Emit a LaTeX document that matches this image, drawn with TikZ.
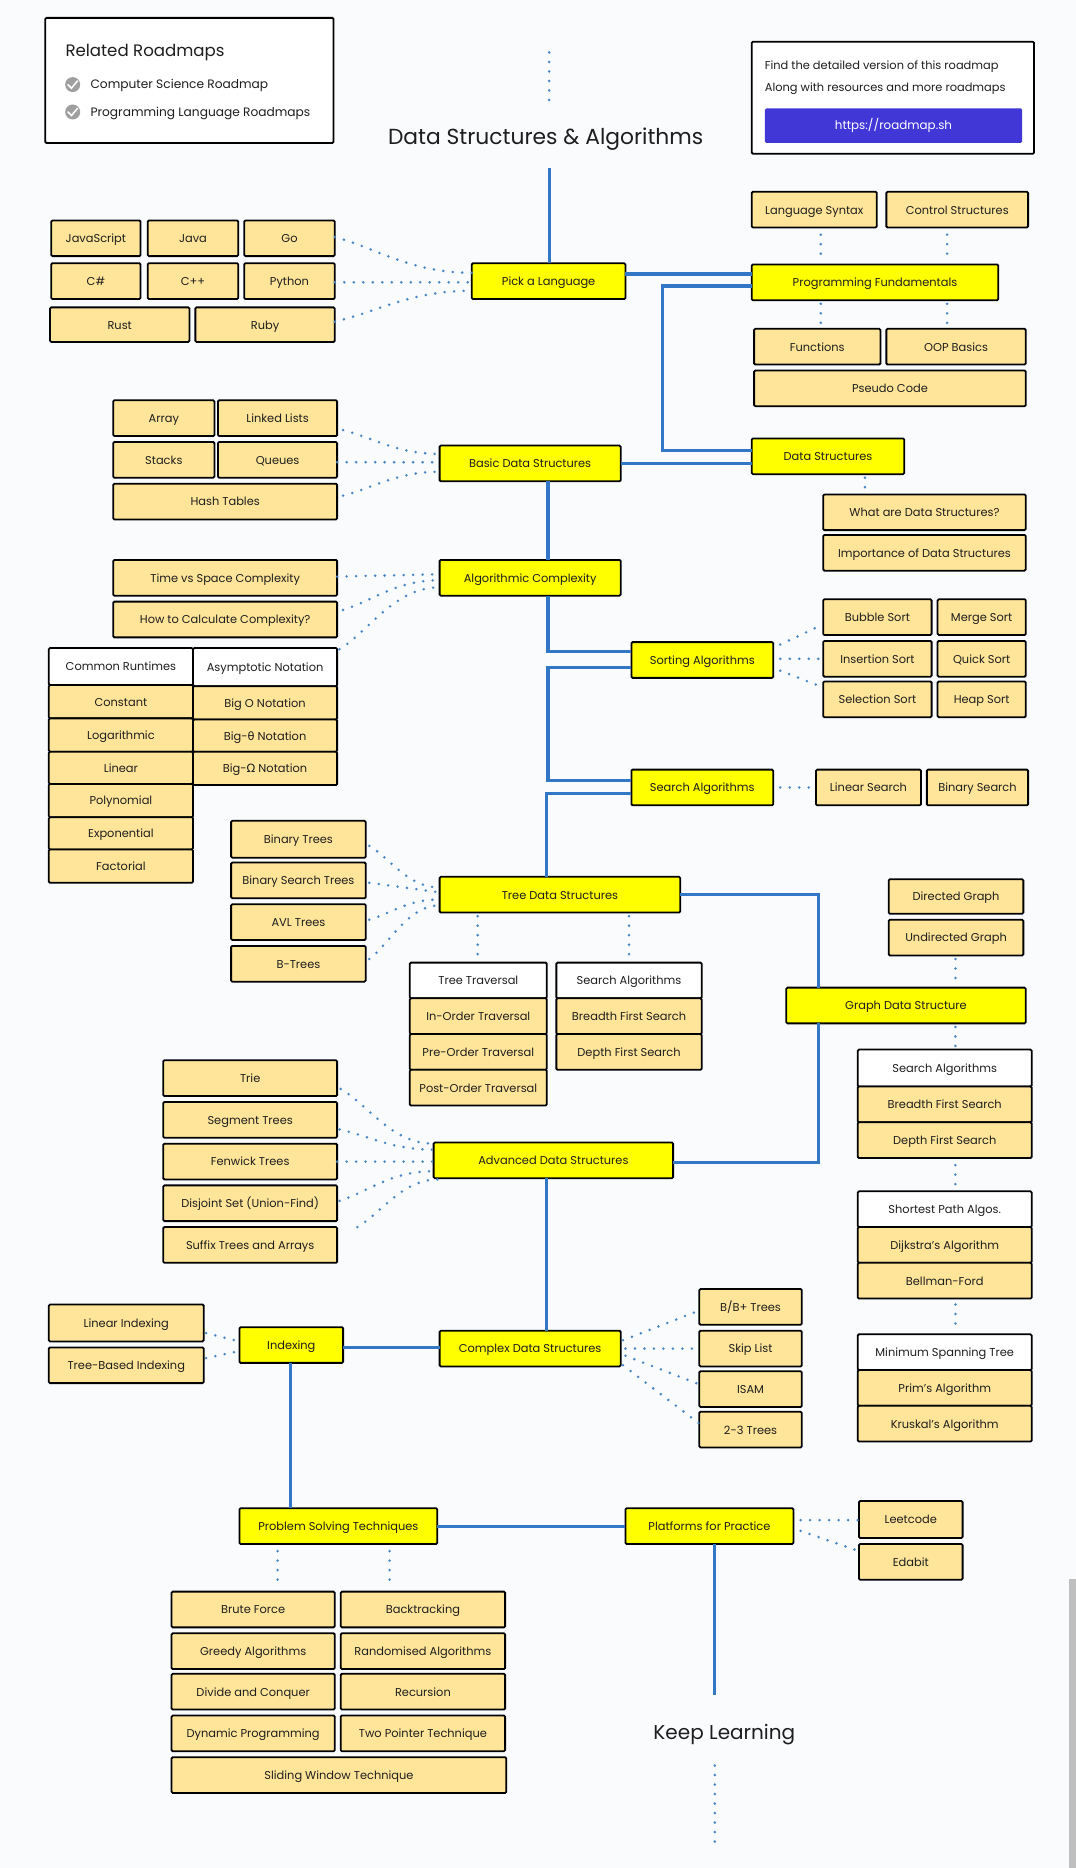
\documentclass[tikz,border=0pt]{standalone}
\usepackage{fontspec}
\setmainfont{Poppins}
\newfontfamily\grk{DejaVu Sans}
\usetikzlibrary{calc}
\definecolor{pagebg}{HTML}{F9FBFD}
\definecolor{tan}{HTML}{FFE599}
\definecolor{brightyel}{HTML}{FFFF00}
\definecolor{lineblue}{HTML}{3277C6}
\definecolor{dotblue}{HTML}{4A86C4}
\definecolor{btnblue}{HTML}{4136D6}
\definecolor{ink}{HTML}{1E1E1E}
\definecolor{barg}{HTML}{BFBFBF}
\newcommand\bxw{}\newcommand\bxh{}
\newcommand\bn[7]{%
  \pgfmathsetmacro\bxw{(#5-#3)*1.19158}%
  \pgfmathsetmacro\bxh{(#6-#4)*1.19158}%
  \node[#1,minimum width=\bxw pt,minimum height=\bxh pt] (#2) at ({(#3+#5)/2},{(#4+#6)/2}) {#7};}
\newcommand\cvd[2]{%
  \coordinate (pA) at (#1);\coordinate (pB) at (#2);
  \coordinate (pM) at ($(pA)!.55!(pB)$);
  \draw[dotl] (pA) .. controls ($(pA)!.3!(pB)$) and (pM |- pB) .. (pB);}
\tikzset{
  base/.style={draw=black,line width=1.8pt,rounded corners=1.2pt,inner sep=0pt,outer sep=0pt,text=ink,
    font=\fontsize{11.4}{13}\selectfont,text height=10.6pt,text depth=1.8pt,align=center},
  tanbox/.style={base,fill=tan},
  yel/.style={base,fill=brightyel},
  whitebox/.style={base,fill=white},
  panel/.style={draw=black,line width=1.8pt,rounded corners=1.2pt,fill=white,inner sep=0pt,outer sep=0pt},
  solidl/.style={draw=lineblue,line width=3.2pt},
  dotl/.style={draw=dotblue,line width=2.8pt,line cap=round,dash pattern=on 0pt off 9.5pt},
  lbl/.style={inner sep=0pt,outer sep=0pt,text=ink,anchor=west,font=\fontsize{11.4}{13}\selectfont,text height=10.6pt,text depth=1.8pt},
  listlbl/.style={lbl,font=\fontsize{12.2}{14}\selectfont},
  head/.style={inner sep=0pt,outer sep=0pt,text=ink,font=\fontsize{20}{24}\selectfont},
  chk/.style={circle,fill=gray!75,inner sep=0pt,outer sep=0pt,minimum size=15pt},
}
\begin{document}
\begin{tikzpicture}[x=1.19158pt,y=-1.19158pt]
\useasboundingbox (0,0) rectangle (903,1568);
\fill[pagebg] (0,0) rectangle (903,1568);
\fill[barg] (897,1325) rectangle (903,1568);
% header panels
\bn{panel}{related}{38}{15}{280}{120}{}
\node[lbl,font=\fontsize{16.6}{20}\selectfont,text height=13pt,text depth=1pt] (relt) at (55,42) {Related Roadmaps};
\node[chk] (c1) at (61,71) {};
\node[chk] (c2) at (61,94) {};
\draw[white,line width=1.6pt,line cap=round] (57,71) -- (60,74) -- (65,68);
\draw[white,line width=1.6pt,line cap=round] (57,94) -- (60,97) -- (65,91);
\node[listlbl] (r1) at (76,71) {Computer Science Roadmap};
\node[listlbl] (r2) at (76,94) {Programming Language Roadmaps};
\bn{panel}{find}{631}{35}{868}{129}{}
\node[lbl] (f1) at (642,55) {Find the detailed version of this roadmap};
\node[lbl] (f2) at (642,73) {Along with resources and more roadmaps};
\bn{fill=btnblue,rounded corners=1.5pt,inner sep=0pt,outer sep=0pt,text=white,font=\fontsize{11.9}{14}\selectfont}{btn}{642}{91}{858}{120}{https://roadmap.sh}
\node[head,font=\fontsize{21.8}{26}\selectfont] (title) at (458,117) {Data Structures \& Algorithms};
\node[head] (keep) at (608,1456) {Keep Learning};
\coordinate (topa) at (461,44);\coordinate (topb) at (461,88);
\coordinate (tla) at (461,141);
\coordinate (bota) at (600,1482);\coordinate (botb) at (600,1548);
\coordinate (kla) at (600,1423);
% languages
\bn{tanbox}{js}{43}{185}{118}{215}{JavaScript}
\bn{tanbox}{java}{124}{185}{200}{215}{Java}
\bn{tanbox}{go}{205}{185}{281}{215}{Go}
\bn{tanbox}{cs}{43}{221}{118}{251}{C\#}
\bn{tanbox}{cpp}{124}{221}{200}{251}{C++}
\bn{tanbox}{py}{205}{221}{281}{251}{Python}
\bn{tanbox}{rust}{42}{258}{159}{287}{Rust}
\bn{tanbox}{ruby}{164}{258}{281}{287}{Ruby}
\bn{yel}{pick}{396}{221}{525}{251}{Pick a Language}
\bn{yel}{prog}{631}{222}{838}{252}{Programming Fundamentals}
\bn{tanbox}{syn}{631}{161}{736}{191}{Language Syntax}
\bn{tanbox}{ctrl}{744}{161}{863}{191}{Control Structures}
\bn{tanbox}{func}{633}{276}{739}{306}{Functions}
\bn{tanbox}{oop}{744}{276}{861}{306}{OOP Basics}
\bn{tanbox}{pseudo}{633}{311}{861}{341}{Pseudo Code}
\bn{yel}{ds}{631}{368}{759}{398}{Data Structures}
\bn{tanbox}{what}{691}{415}{861}{445}{What are Data Structures?}
\bn{tanbox}{imp}{691}{449}{861}{479}{Importance of Data Structures}
\bn{yel}{basic}{369}{374}{521}{404}{Basic Data Structures}
\bn{tanbox}{arr}{95}{336}{180}{366}{Array}
\bn{tanbox}{ll}{183}{336}{283}{366}{Linked Lists}
\bn{tanbox}{stk}{95}{371}{180}{401}{Stacks}
\bn{tanbox}{que}{183}{371}{283}{401}{Queues}
\bn{tanbox}{hash}{95}{406}{283}{436}{Hash Tables}
\bn{yel}{algc}{369}{470}{521}{500}{Algorithmic Complexity}
\bn{tanbox}{tvs}{95}{470}{283}{500}{Time vs Space Complexity}
\bn{tanbox}{how}{95}{505}{283}{535}{How to Calculate Complexity?}
\bn{whitebox}{rt}{41}{544}{162}{575}{Common Runtimes}
\bn{tanbox}{rt1}{41}{575}{162}{603}{Constant}
\bn{tanbox}{rt2}{41}{603}{162}{631}{Logarithmic}
\bn{tanbox}{rt3}{41}{631}{162}{658}{Linear}
\bn{tanbox}{rt4}{41}{658}{162}{686}{Polynomial}
\bn{tanbox}{rt5}{41}{686}{162}{713}{Exponential}
\bn{tanbox}{rt6}{41}{713}{162}{741}{Factorial}
\bn{whitebox}{asy}{162}{544}{283}{576}{Asymptotic Notation}
\bn{tanbox}{as1}{162}{576}{283}{604}{Big O Notation}
\bn{tanbox}{as2}{162}{604}{283}{631}{Big-{\grk θ} Notation}
\bn{tanbox}{as3}{162}{631}{283}{659}{Big-{\grk Ω} Notation}
\bn{yel}{sort}{530}{539}{649}{569}{Sorting Algorithms}
\bn{tanbox}{bub}{691}{503}{782}{533}{Bubble Sort}
\bn{tanbox}{mer}{787}{503}{861}{533}{Merge Sort}
\bn{tanbox}{ins}{691}{538}{782}{568}{Insertion Sort}
\bn{tanbox}{qui}{787}{538}{861}{568}{Quick Sort}
\bn{tanbox}{sel}{691}{572}{782}{602}{Selection Sort}
\bn{tanbox}{hea}{787}{572}{861}{602}{Heap Sort}
\bn{yel}{srch}{530}{646}{649}{676}{Search Algorithms}
\bn{tanbox}{lin}{685}{646}{773}{676}{Linear Search}
\bn{tanbox}{bin}{778}{646}{863}{676}{Binary Search}
\bn{yel}{tree}{369}{736}{571}{766}{Tree Data Structures}
\bn{tanbox}{bt}{194}{689}{307}{720}{Binary Trees}
\bn{tanbox}{bst}{194}{724}{307}{754}{Binary Search Trees}
\bn{tanbox}{avl}{194}{759}{307}{789}{AVL Trees}
\bn{tanbox}{bbt}{194}{794}{307}{824}{B-Trees}
\bn{whitebox}{tt}{344}{808}{459}{838}{Tree Traversal}
\bn{tanbox}{tt1}{344}{838}{459}{868}{In-Order Traversal}
\bn{tanbox}{tt2}{344}{868}{459}{898}{Pre-Order Traversal}
\bn{tanbox}{tt3}{344}{898}{459}{928}{Post-Order Traversal}
\bn{whitebox}{sa}{467}{808}{589}{838}{Search Algorithms}
\bn{tanbox}{sa1}{467}{838}{589}{868}{Breadth First Search}
\bn{tanbox}{sa2}{467}{868}{589}{898}{Depth First Search}
\bn{tanbox}{dg}{746}{738}{859}{767}{Directed Graph}
\bn{tanbox}{ug}{746}{772}{859}{802}{Undirected Graph}
\bn{yel}{graph}{660}{829}{861}{859}{Graph Data Structure}
\bn{whitebox}{gs}{720}{881}{866}{912}{Search Algorithms}
\bn{tanbox}{gs1}{720}{912}{866}{942}{Breadth First Search}
\bn{tanbox}{gs2}{720}{942}{866}{972}{Depth First Search}
\bn{whitebox}{sp}{720}{1000}{866}{1030}{Shortest Path Algos.}
\bn{tanbox}{sp1}{720}{1030}{866}{1060}{Dijkstra's Algorithm}
\bn{tanbox}{sp2}{720}{1060}{866}{1090}{Bellman-Ford}
\bn{whitebox}{mst}{720}{1120}{866}{1150}{Minimum Spanning Tree}
\bn{tanbox}{mst1}{720}{1150}{866}{1180}{Prim's Algorithm}
\bn{tanbox}{mst2}{720}{1180}{866}{1210}{Kruskal's Algorithm}
\bn{yel}{adv}{364}{959}{565}{989}{Advanced Data Structures}
\bn{tanbox}{trie}{137}{890}{283}{920}{Trie}
\bn{tanbox}{seg}{137}{925}{283}{955}{Segment Trees}
\bn{tanbox}{fen}{137}{960}{283}{990}{Fenwick Trees}
\bn{tanbox}{dis}{137}{995}{283}{1025}{Disjoint Set (Union-Find)}
\bn{tanbox}{suf}{137}{1030}{283}{1060}{Suffix Trees and Arrays}
\bn{yel}{cplx}{369}{1117}{521}{1147}{Complex Data Structures}
\bn{yel}{idx}{201}{1114}{288}{1144}{Indexing}
\bn{tanbox}{li}{41}{1095}{171}{1126}{Linear Indexing}
\bn{tanbox}{tb}{41}{1131}{171}{1161}{Tree-Based Indexing}
\bn{tanbox}{bp}{587}{1082}{673}{1112}{B/B+ Trees}
\bn{tanbox}{skip}{587}{1117}{673}{1147}{Skip List}
\bn{tanbox}{isam}{587}{1151}{673}{1181}{ISAM}
\bn{tanbox}{tri}{587}{1185}{673}{1215}{2-3 Trees}
\bn{yel}{prob}{201}{1266}{367}{1296}{Problem Solving Techniques}
\bn{yel}{plat}{525}{1266}{666}{1296}{Platforms for Practice}
\bn{tanbox}{leet}{721}{1260}{808}{1291}{Leetcode}
\bn{tanbox}{eda}{721}{1296}{808}{1326}{Edabit}
\bn{tanbox}{bf}{144}{1336}{281}{1366}{Brute Force}
\bn{tanbox}{back}{286}{1336}{424}{1366}{Backtracking}
\bn{tanbox}{grd}{144}{1371}{281}{1401}{Greedy Algorithms}
\bn{tanbox}{rnd}{286}{1371}{424}{1401}{Randomised Algorithms}
\bn{tanbox}{dc}{144}{1405}{281}{1435}{Divide and Conquer}
\bn{tanbox}{rec}{286}{1405}{424}{1435}{Recursion}
\bn{tanbox}{dp}{144}{1440}{281}{1470}{Dynamic Programming}
\bn{tanbox}{twop}{286}{1440}{424}{1470}{Two Pointer Technique}
\bn{tanbox}{slide}{144}{1475}{425}{1505}{Sliding Window Technique}
% solid connectors
\draw[solidl] (tla) -- (tla |- pick.north);
\draw[solidl] (pick.east |- 0,230) -- (prog.west |- 0,230);
\draw[solidl] (prog.west |- 0,240) -- (556,240) -- (556,378) -- (ds.west |- 0,378);
\draw[solidl] (basic.east |- 0,389) -- (ds.west |- 0,389);
\draw[solidl] (460,404) -- (460,470);
\draw[solidl] (460,500) -- (460,547) -- (sort.west |- 0,547);
\draw[solidl] (sort.west |- 0,560) -- (460,560) -- (460,655) -- (srch.west |- 0,655);
\draw[solidl] (srch.west |- 0,666) -- (459,666) -- (459,736);
\draw[solidl] (tree.east) -- (687,751) -- (687,829);
\draw[solidl] (687,859) -- (687,976) -- (adv.east |- 0,976);
\draw[solidl] (459,989) -- (459,1117);
\draw[solidl] (cplx.west |- 0,1131) -- (idx.east |- 0,1131);
\draw[solidl] (244,1144) -- (244,1266);
\draw[solidl] (prob.east) -- (plat.west);
\draw[solidl] (600,1296) -- (kla);
% dotted connectors
\draw[dotl] (topa) -- (topb);
\draw[dotl] (bota) -- (botb);
\cvd{go.east |- 285,199}{pick.west |- 0,229}
\draw[dotl] (py.east |- 0,237) -- (pick.west |- 0,237);
\cvd{ruby.east |- 285,270}{pick.west |- 0,244}
\draw[dotl] (689,197) -- (689,218);
\draw[dotl] (795,197) -- (795,218);
\draw[dotl] (689,255) -- (689,272);
\draw[dotl] (795,255) -- (795,272);
\cvd{288,361}{basic.west |- 0,381}
\draw[dotl] (que.east |- 0,388) -- (basic.west |- 0,388);
\cvd{288,416}{basic.west |- 0,396}
\draw[dotl] (726,401) -- (726,412);
\draw[dotl] (tvs.east |- 0,484) -- (algc.west |- 0,482);
\cvd{288,512}{algc.west |- 0,487}
\cvd{285,545}{algc.west |- 0,493}
\draw[dotl] (655,541) -- (bub.west |- 0,524);
\draw[dotl] (655,553) -- (ins.west |- 0,553);
\draw[dotl] (655,563) -- (sel.west |- 0,577);
\draw[dotl] (655,661) -- (lin.west |- 0,661);
\cvd{310,710}{tree.west |- 0,745}
\draw[dotl] (310,741) -- (tree.west |- 0,749);
\cvd{310,772}{tree.west |- 0,755}
\cvd{310,805}{tree.west |- 0,760}
\draw[dotl] (401,769) -- (401,805);
\draw[dotl] (528,769) -- (528,805);
\draw[dotl] (802,805) -- (802,826);
\draw[dotl] (802,862) -- (802,878);
\draw[dotl] (802,978) -- (802,997);
\draw[dotl] (802,1095) -- (802,1116);
\cvd{286,914}{adv.west |- 0,960}
\cvd{285,948}{adv.west |- 0,965}
\draw[dotl] (fen.east |- 0,975) -- (adv.west |- 0,975);
\cvd{285,1008}{adv.west |- 0,983}
\cvd{300,1030}{368,990}
\draw[dotl] (173,1119) -- (idx.west |- 0,1126);
\draw[dotl] (173,1140) -- (idx.west |- 0,1134);
\draw[dotl] (523,1125) -- (bp.west |- 0,1100);
\draw[dotl] (525,1132) -- (skip.west |- 0,1132);
\draw[dotl] (525,1138) -- (isam.west |- 0,1162);
\draw[dotl] (523,1146) -- (tri.west |- 0,1195);
\draw[dotl] (672,1276) -- (leet.west |- 0,1276);
\draw[dotl] (672,1285) -- (eda.west |- 0,1302);
\draw[dotl] (233,1302) -- (233,1332);
\draw[dotl] (327,1302) -- (327,1332);
\end{tikzpicture}
\end{document}
